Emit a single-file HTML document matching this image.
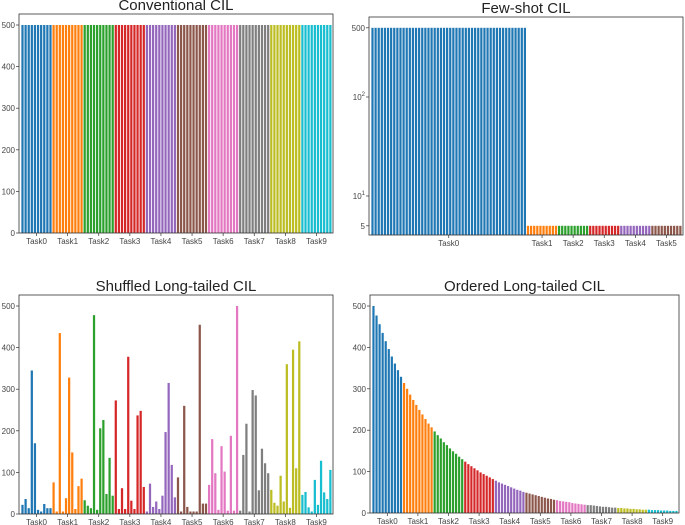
<!DOCTYPE html>
<html><head><meta charset="utf-8">
<style>
body{margin:0;background:#fff;width:685px;height:525px;overflow:hidden}
svg{display:block;font-family:"Liberation Sans","DejaVu Sans",sans-serif}
.tk{font-size:8px;fill:#444}
.tt{font-size:15px;fill:#222}
</style></head>
<body>
<svg id="fig" width="685" height="525"></svg>
<script>
const colors = ["#1f77b4","#ff7f0e","#2ca02c","#d62728","#9467bd","#8c564b","#e377c2","#7f7f7f","#bcbd22","#17becf"];
const taskLabels = ["Task0","Task1","Task2","Task3","Task4","Task5","Task6","Task7","Task8","Task9"];
const conventionalValues = Array(100).fill(500);
const fewshotTaskSizes = [50,10,10,10,10,10];
const fewshotValues = Array(50).fill(500).concat(Array(50).fill(5));
const shuffledValues = [
22,36,14,345,170,10,6,24,14,14,
76,6,435,6,38,328,148,12,67,85,
33,20,14,478,10,206,226,48,135,44,
273,12,62,12,378,32,12,237,248,65,
6,73,17,30,12,44,197,315,118,40,
88,6,260,17,6,6,6,455,25,25,
70,180,98,10,163,102,8,188,8,500,
8,142,217,6,298,285,57,157,122,98,
58,27,20,92,30,360,15,395,110,415,
46,53,16,6,82,22,128,52,36,106];
const orderedValues = [500,477,456,435,415,396,378,361,345,329,314,300,286,273,261,249,238,227,216,207,197,188,180,171,164,156,149,143,136,130,124,118,113,108,103,98,94,90,86,82,78,74,71,68,65,62,59,56,54,51,49,47,45,43,41,39,37,35,34,32,31,29,28,27,26,24,23,22,21,20,19,19,18,17,16,15,15,14,13,13,12,12,11,11,10,10,9,9,8,8,8,7,7,7,6,6,6,5,5,5];
const linTicks = [0,100,200,300,400,500];

const NS="http://www.w3.org/2000/svg";
const svg=document.getElementById('fig');
function mk(tag,attrs,parent){const e=document.createElementNS(NS,tag);for(const k in attrs)e.setAttribute(k,attrs[k]);(parent||svg).appendChild(e);return e;}

function panel(name,title,box,values,sizes,yScale,ticks,tickText,nTasks){
  const g=mk('g',{});
  
  
  const t=mk('text',{x:(box.x0+box.x1)/2,y:box.y0-4,'text-anchor':'middle',class:'tt'},g);
  t.textContent=title;
  
  
  const n=values.length, bx0=box.x0+2, bx1=box.x1-1;
  const slot=(bx1-bx0)/n;
  const xOf=i=>bx0+i*slot;
  // task index for each class
  let task=[],start=[0];
  sizes.forEach((s,k)=>{for(let j=0;j<s;j++)task.push(k);start.push(start[k]+s);});
  values.forEach((v,i)=>{
    const y=yScale(v);
    const r=mk('rect',{x:xOf(i)+slot*0.12,y:y,width:slot*0.72,height:box.y1-y,fill:colors[task[i]]},g);
    
    
  });
  mk('rect',{x:box.x0,y:box.y0,width:box.x1-box.x0,height:box.y1-box.y0,fill:'none',stroke:'#333','stroke-width':0.8},g);
  ticks.forEach((tv,k)=>{
    const y=yScale(tv);
    mk('line',{x1:box.x0-3,x2:box.x0,y1:y,y2:y,stroke:'#333','stroke-width':0.7},g);
    const lt=mk('text',{x:box.x0-4,y:y+3,'text-anchor':'end',class:'tk'},g);
    lt.innerHTML=tickText[k];
    
    
  });
  for(let k=0;k<nTasks;k++){
    const cx=(xOf(start[k])+xOf(start[k+1]))/2;
    mk('line',{x1:cx,x2:cx,y1:box.y1,y2:box.y1+3,stroke:'#333','stroke-width':0.7},g);
    const lt=mk('text',{x:cx,y:box.y1+11,'text-anchor':'middle',class:'tk'},g);
    lt.textContent=taskLabels[k];
    
    
  }
}
const linY=(y0,y1)=>v=>y1-(v/500)*(y1-y0-11);
const tenSizes=Array(10).fill(10);
const linText=linTicks.map(String);

panel('conventional-chart','Conventional CIL',{x0:19,x1:333,y0:14,y1:233},conventionalValues,tenSizes,linY(14,233),linTicks,linText,10);

const logY=v=>196-(Math.log10(v)-1)*99;
panel('fewshot-chart','Few-shot CIL',{x0:369,x1:683,y0:17,y1:235},fewshotValues,fewshotTaskSizes,logY,[5,10,100,500],['5','10<tspan dy="-4" font-size="6">1</tspan>','10<tspan dy="-4" font-size="6">2</tspan>','500'],6);

panel('shuffled-chart','Shuffled Long-tailed CIL',{x0:19,x1:333,y0:295,y1:514},shuffledValues,tenSizes,linY(295,514),linTicks,linText,10);

panel('ordered-chart','Ordered Long-tailed CIL',{x0:370,x1:679,y0:295,y1:513},orderedValues,tenSizes,linY(295,513),linTicks,linText,10);
</script>
</body></html>
